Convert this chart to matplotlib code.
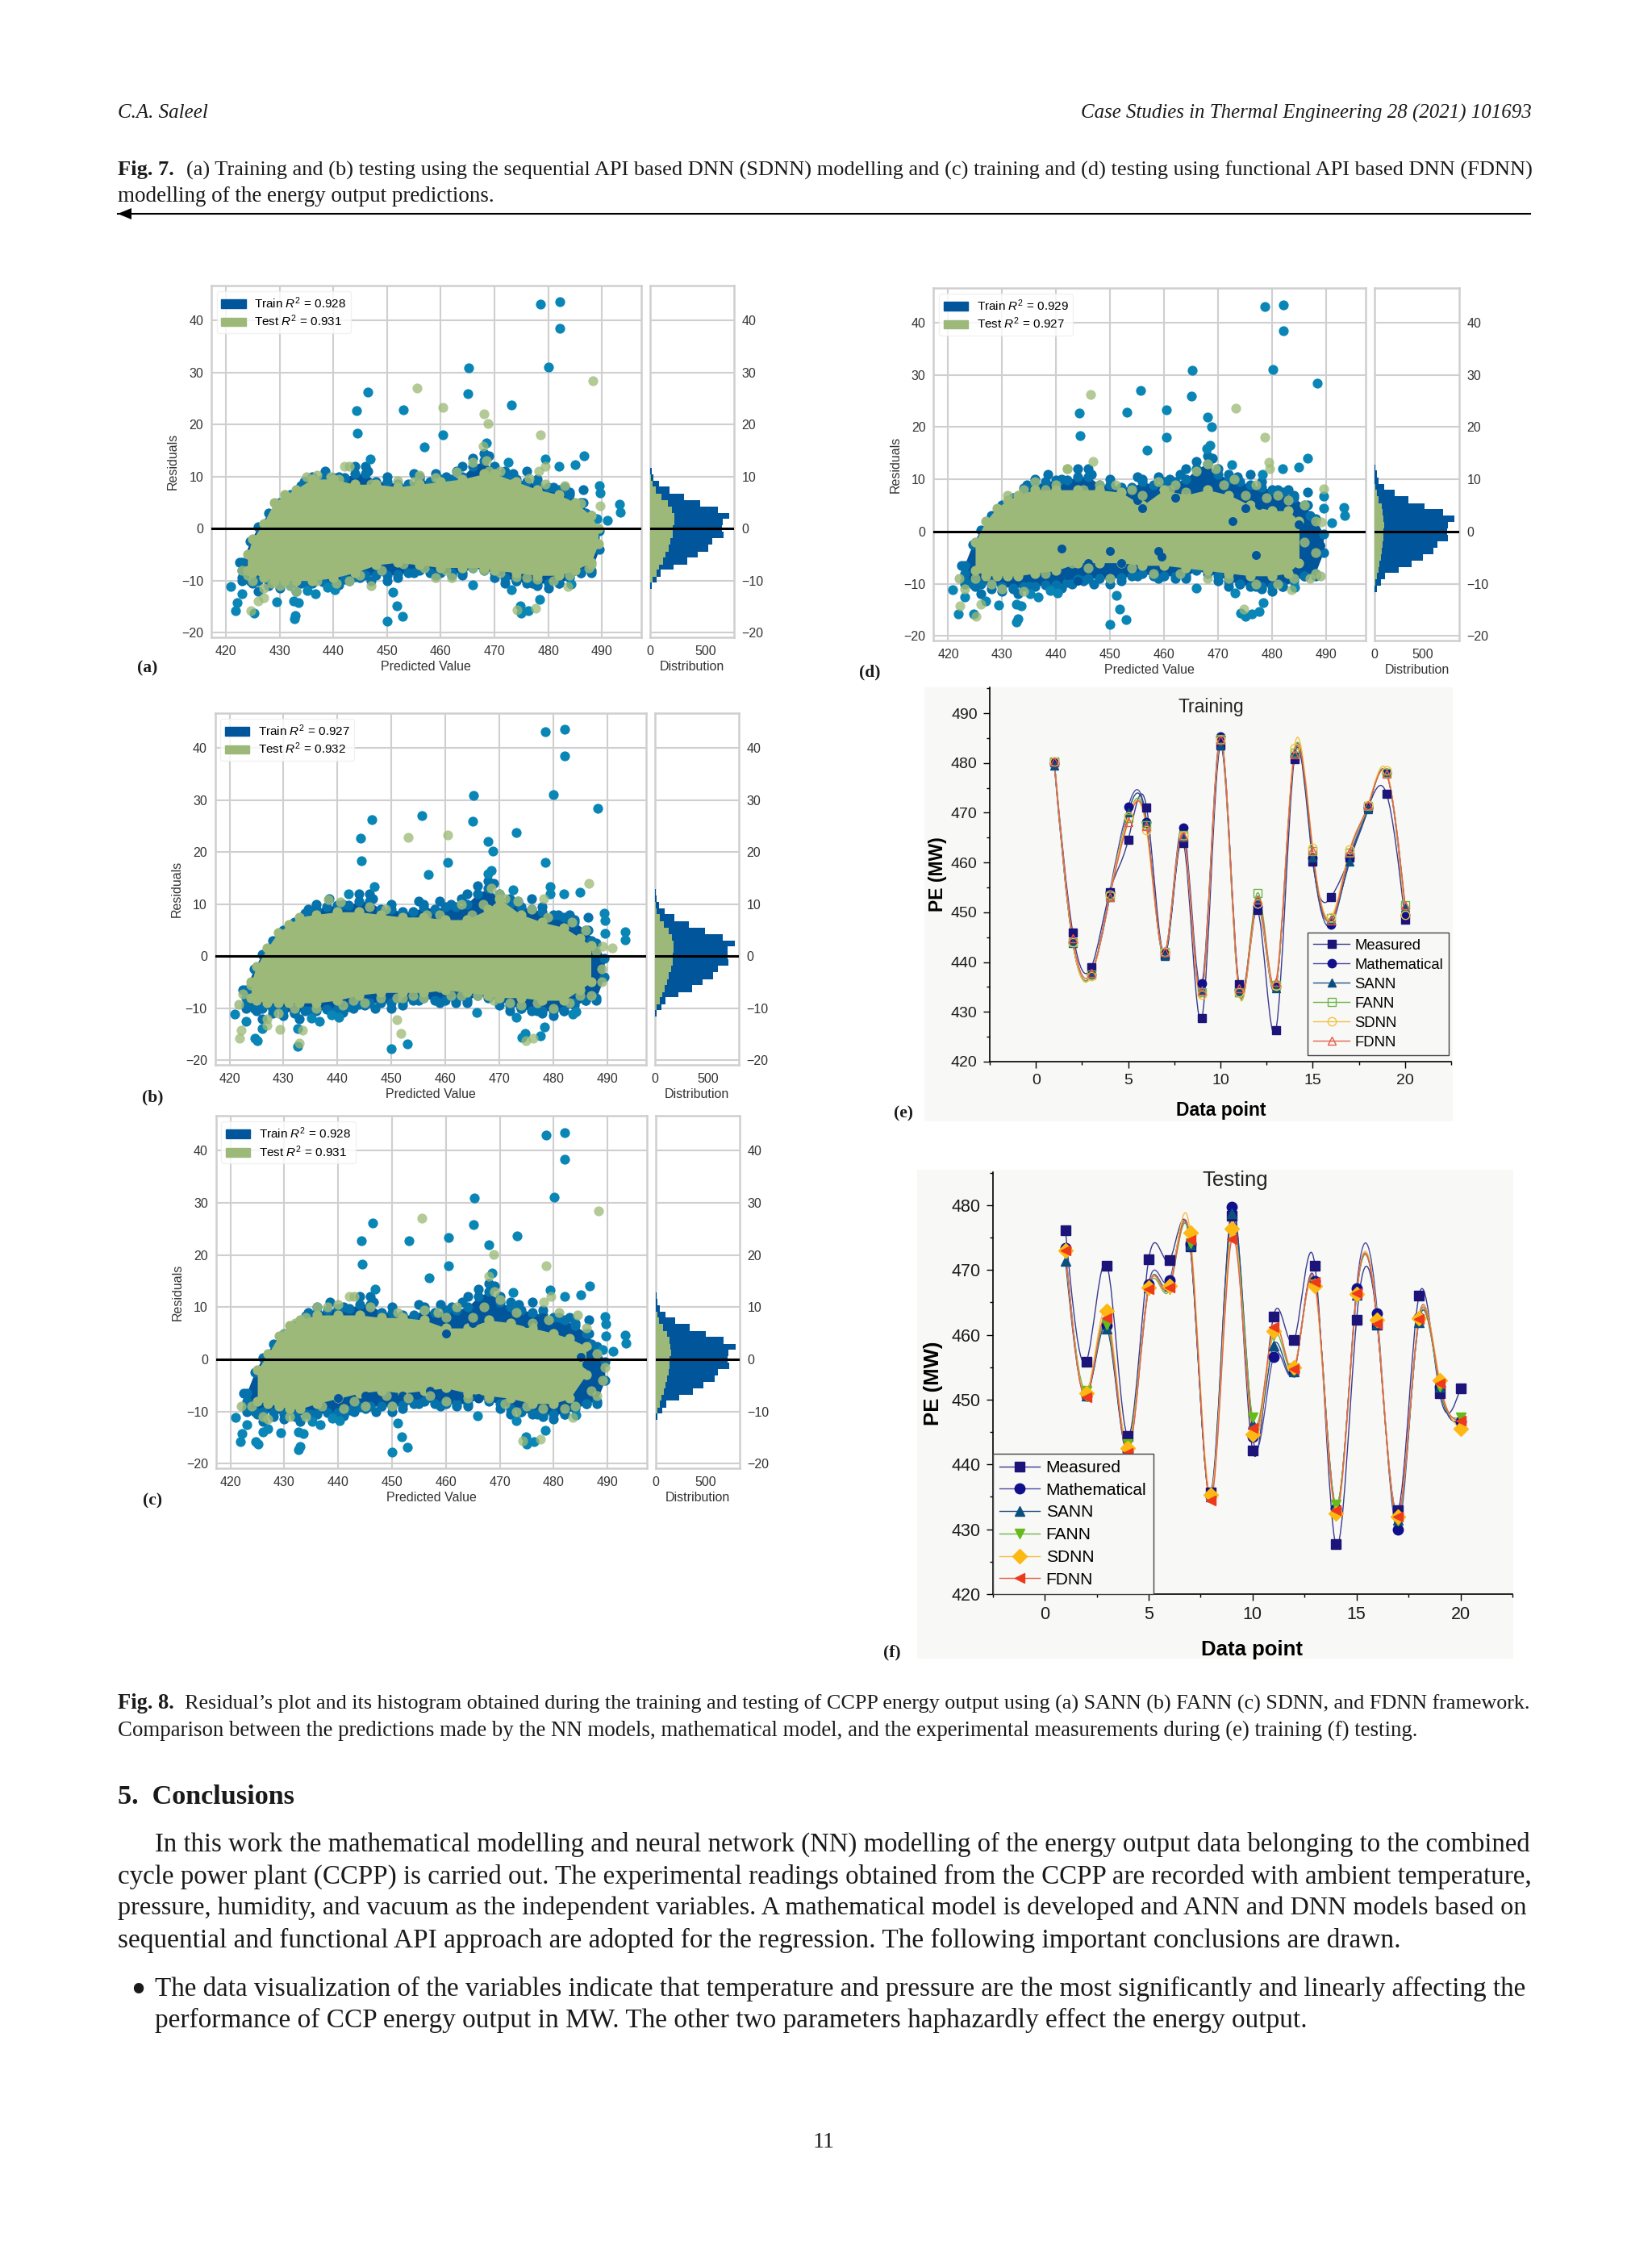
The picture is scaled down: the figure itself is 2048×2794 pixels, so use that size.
import matplotlib
matplotlib.use("Agg")
import matplotlib.pyplot as plt
import numpy as np
from matplotlib.patches import Patch, PathPatch, Rectangle
from matplotlib.path import Path
from matplotlib.lines import Line2D
from matplotlib.ticker import MultipleLocator

W, H = 2048, 2794
SANS = "Liberation Sans"
SERIF = "Liberation Serif"
plt.rcParams["font.family"] = [SANS, "DejaVu Sans"]
plt.rcParams["mathtext.fontset"] = "custom"
plt.rcParams["mathtext.rm"] = SANS
plt.rcParams["mathtext.it"] = SANS + ":italic"
plt.rcParams["mathtext.bf"] = SANS + ":bold"

# residual plots: the same extreme points show up in every panel, only the split differs
out_x = [478.6, 482.1, 482.1, 465.2, 480.1, 446.4, 465.1, 444.3, 453.1, 473.2, 444.5, 460.4, 456.9, 468.5,
         446.9, 486.6, 479.4, 485, 482, 472.5, 489.5, 489.6, 493.3, 493.4, 491, 489.1, 420.9, 423, 422.1,
         421.8, 425.2, 429.4, 432.6, 433.5, 432.9, 432.7, 436.6, 435.1, 438.9, 440.2, 450, 451.1, 451.8,
         452.9, 465.9, 473.1, 474.8, 475, 476.3, 478.4, 484.2, 455.6, 460.4, 468, 468.8, 478.6, 467.9,
         488.3, 479.5, 478.2, 442.1, 489.6, 474.2, 477.6, 424.7, 426, 427, 483.6]
out_y = [43.05, 43.5, 38.4, 30.9, 31.05, 26.2, 25.9, 22.7, 22.8, 23.7, 18.3, 18, 15.6, 16.5,
         13.4, 14, 13.3, 12.3, 12, 12.8, 8.2, 6.8, 4.6, 3.1, 1.6, 1.9, -11.1, -12.6, -14.3,
         -15.8, -16.2, -14.1, -14, -14.2, -16.7, -17.4, -12.6, -11.9, -11.3, -11.7, -17.8, -12.2, -14.8,
         -16.9, -10.8, -11.8, -14.8, -16.2, -15.8, -13.6, -10.7, 27, 23.3, 22, 20.1, 18, 15.9,
         28.4, 12, 11, 12, 4.4, -15.7, -15.3, -15.8, -13.9, -13.3, -11.1]
test_idx_a = [51, 52, 53, 54, 55, 56, 57, 58, 59, 60, 61, 62, 63, 64, 65, 66, 67]
test_idx_b = [8, 52, 15, 59, 41, 42, 31, 33, 34, 28, 29, 24, 25, 47, 48, 66]
test_idx_c = [51, 54, 55, 56, 57, 58, 59, 60, 62, 63, 67]
test_idx_d = [5, 9, 55, 16, 58, 14, 60, 20, 30, 28, 65, 46, 67, 25]

# outline of the dense train cloud
train_x = [423, 424.5, 426, 428, 430, 432, 434, 436, 438, 440, 442, 444, 446, 448, 450, 452, 454, 456, 458, 460,
           462, 464, 466, 468, 470, 472, 474, 476, 478, 480, 482, 484, 486, 488, 489.5]
train_top = [-6.5, -2.5, 0.3, 3, 5, 6.5, 8.3, 9, 9.5, 9.8, 9.8, 10.5, 10.5, 9, 9, 8.5, 8.5, 9.5, 9, 9.5,
             9.5, 10, 12, 13, 11, 10, 9.5, 9, 8.5, 8, 7.5, 6.5, 5, 2.5, -0.5]
train_bot = [-9.5, -10, -10, -10.2, -10.5, -10.8, -10.5, -10.5, -10.2, -10.2, -9.8, -9.2, -9, -9, -9, -8.8, -8.5, -8, -8.5, -8.5,
             -8.5, -8.5, -7.5, -8, -8.5, -9.5, -10, -10.5, -10.5, -10.5, -10.5, -9.5, -8.5, -8, -4]
train_extra_x = [434.5, 436, 438.5, 441, 444, 446, 446.5, 450, 455, 456, 459, 461, 463, 464, 466, 468, 469, 470, 472,
                 473.5, 476, 478, 481, 483, 484, 486.5, 486.5, 487, 422.5, 423, 423, 425, 426, 428, 430, 432, 433, 435,
                 439, 441, 443, 445, 447, 450, 452, 455, 459, 462, 464, 470, 472, 474, 477, 478, 480, 482, 484, 486, 488]
train_extra_y = [9, 10, 11, 10, 12, 12, 11, 10, 10.5, 10, 10.5, 10, 11, 12, 13.5, 14.5, 14, 12, 11,
                 10.5, 11, 9.5, 8, 8, 7, 7.5, 5, 3, -6.5, -8, -10, -10.5, -12, -11, -11.5, -11, -12, -10.5,
                 -11, -10.8, -10, -9.5, -10, -10, -9.5, -8.5, -9, -9, -9, -9.5, -10.5, -10, -10.5, -11, -11.5, -10.5, -9, -8.5, -8.5]

# outline of the dense test cloud, one per panel
test_x_a = [424, 425, 427, 429, 431, 433, 436, 440, 444, 448, 452, 456, 460, 464, 468, 470, 474, 478, 482, 485, 488, 489.3]
test_top_a = [-5, -2, 1, 5, 6.5, 7.5, 9.5, 9.5, 8.5, 8.5, 8, 8.5, 9, 9.5, 10.5, 10.5, 9, 7.5, 6.5, 5, 2.5, 0]
test_bot_a = [-8, -8.5, -9.5, -10, -10, -10, -10, -9.5, -8.5, -7, -6.5, -7, -7.5, -7.5, -7.5, -8, -8.5, -9, -9, -8, -6.5, -3]
test_x_b = [424, 425, 427, 429, 431, 433, 436, 440, 444, 448, 452, 456, 460, 464, 468, 470, 474, 478, 482, 485, 487]
test_top_b = [-5, -2, 1.5, 4.5, 6, 7.5, 8, 8.5, 8.5, 8, 7.5, 7.5, 7, 7, 9, 11, 8, 6.5, 5.5, 3.5, 2]
test_bot_b = [-8, -8.5, -9, -9, -9, -9, -9, -8.5, -7.5, -7, -7, -7, -6.5, -7, -7.5, -8, -8, -8.5, -8.5, -6.5, -5]
test_x_c = [425, 427, 429, 431, 433, 436, 440, 444, 448, 452, 456, 460, 464, 468, 472, 476, 480, 483, 486]
test_top_c = [-2, 1, 4.5, 6.5, 7.5, 8.5, 8.5, 8.5, 8, 8, 7.5, 6, 6, 7.5, 7, 6, 5, 4, 2.5]
test_bot_c = [-8, -8.5, -9, -9.5, -9.5, -8.5, -7.5, -6.5, -6, -6.5, -6, -5.5, -6.5, -7, -7.5, -8.5, -8.5, -7.5, -3]
test_x_d = [425, 427, 429, 431, 433, 436, 440, 444, 448, 452, 456, 460, 464, 468, 472, 476, 480, 483, 485]
test_top_d = [-2, 2, 4.5, 6, 7, 8, 8, 8, 8, 7.5, 5, 8, 7, 8, 7, 5, 4, 4, 2]
test_bot_d = [-7.5, -8.5, -8.5, -8.5, -8.5, -8, -7.5, -6, -6, -6, -6.5, -6.5, -7, -7.5, -8, -8.5, -8.5, -8, -6]

# separate test points poking out of the cloud
fringe_x_a = [435, 437, 439.5, 441, 443, 447, 452, 455, 456, 459, 463, 466, 468.5, 469, 471, 473.5, 476.5, 479.5, 483, 486,
              430, 427, 433, 424, 447, 440.5, 443, 457, 459, 462, 468, 476, 481, 484, 488, 489,
              423, 425, 428.5, 432, 437, 445, 449, 453, 461, 466, 471, 474, 478, 487.5]
fringe_y_a = [10, 10.2, 10, 9.5, 12, 8.6, 9.2, 9, 10.3, 9.8, 10.8, 12.8, 13, 11, 11, 8.7, 9.6, 8.5, 8.3, 4.9,
              -11, -11.5, -12, -9, -11, -10.5, -10, -7.5, -9.5, -9.5, -8, -9.5, -10, -9, -7, -3,
              -8, -10, -10.5, -11, -10, -9, -8, -6.8, -8, -7.5, -8.5, -9.3, -9.8, -7.5]
fringe_x_b = [438.3, 440.5, 446, 449, 456.5, 459, 463, 465, 467, 468.5, 470, 471, 473.5, 476, 479, 483.5, 486, 488, 489,
              422.5, 424, 421.7, 427, 429, 441, 445, 451, 454, 459, 463, 469, 474, 480, 483, 487, 489,
              432, 436, 443, 448, 452, 456, 461, 466, 472, 477, 485]
fringe_y_b = [10.9, 10.4, 9.5, 9, 8, 8, 10, 8, 10, 13, 12, 11, 10.5, 9, 7.5, 6.5, 5, 1, -2.5,
              -7.3, -5.5, -9.2, -12, -11, -9.5, -9, -8, -7.5, -6, -7.5, -8.5, -9.5, -10, -9, -7.5, -5,
              -10, -10, -8.5, -8, -8, -8, -7.5, -7.5, -9, -9, -7.5]
fringe_x_c = [430, 432, 434, 436, 438, 440, 443, 446, 451, 456, 458.5, 460, 462, 465, 467, 469, 470, 473, 476, 479, 481,
              484.5, 486, 488, 489.5, 489, 487, 422, 424, 426, 427, 431, 434, 441, 445, 450, 457, 460, 468, 473, 478, 484, 488,
              437, 443, 449, 453, 464, 471, 475, 482]
fringe_y_c = [5, 7, 8, 10, 10, 10.5, 12, 10, 9, 9.5, 9, 8, 10, 8, 10, 13, 11.5, 9, 7, 7.5, 9,
              8.5, 6, 1, -1.5, -4, -6, -9, -9, -11, -11.5, -11, -11, -9.5, -9, -9, -7, -8, -7.5, -10, -9.5, -9, -7,
              -9, -8, -7, -7.5, -7.5, -8.5, -9, -9.5]
fringe_x_d = [431, 434, 438, 442, 445, 448, 451, 454, 459, 461, 464, 466, 468, 469.5, 471, 473, 477, 481, 486, 488, 486, 488,
              487, 488, 489, 422, 423, 425, 428, 430, 434, 438, 443, 446, 450, 454, 458, 463, 468, 472, 477, 481, 484,
              436, 440, 456, 462, 475, 479, 483]
fringe_y_d = [7, 8, 8, 12, 8, 9, 9, 8, 9.5, 8, 7.5, 11.5, 13, 12, 9, 10, 9, 7, 5, 2, -2, -4,
              -9, -8, -8.5, -9, -11, -9, -10, -11, -11.5, -8, -6, -7, -9, -7, -8, -8, -9, -9, -10, -10, -9,
              9.5, 9, 7, 9, 7, 6.5, 6]

# train points still visible through the test cloud
gap_x_c = [460, 465, 475, 478, 440, 445, 452, 457, 462, 466, 485, 487, 486]
gap_y_c = [5, 7, 7, 8, -7.5, -7, -7, -6, -7, -7.5, 0.5, 1, -1]
gap_x_d = [456, 462, 472.7, 475, 477.6, 478, 441, 442, 444, 450, 459, 459.6, 477, 485, 487.4, 487.5, 489,
           455, 464, 480, 446, 452, 486, 488]
gap_y_d = [4.5, 6.5, 2, 4.5, 5, 6.5, -3.2, -8.4, -9.4, -3.8, -3.8, -4.8, -4.5, 1.4, -0.7, -4.8, -2.7,
           6, 8, 6, -6, -6, -3, 2]

# residual histograms
hist_edges = [-11.66, -10.36, -9.22, -7.93, -6.89, -5.6, -4.4, -3.11, -1.81, -0.57, 0.62, 1.81, 3.0, 4.25, 5.44,
              6.74, 8.03, 9.17, 10.36, 11.66, 12.85]
hist_train_a = [19, 60, 96, 215, 335, 431, 526, 560, 658, 646, 653, 715, 610, 450, 304, 177, 86, 36, 19, 7]
hist_test_a = [2, 24, 60, 86, 120, 144, 167, 187, 206, 206, 222, 218, 199, 163, 103, 55, 24, 10, 2, 0]
hist_train_b = [20, 63, 100, 225, 350, 450, 550, 590, 690, 680, 685, 750, 640, 470, 320, 185, 90, 38, 20, 7]
hist_test_b = [2, 20, 49, 70, 97, 117, 135, 152, 167, 170, 180, 177, 161, 132, 83, 45, 20, 8, 2, 0]
hist_train_c = [21, 67, 107, 240, 375, 480, 590, 625, 735, 720, 730, 799, 680, 500, 340, 198, 96, 40, 21, 8]
hist_test_c = [1, 17, 42, 60, 84, 100, 117, 131, 144, 144, 156, 152, 139, 114, 72, 38, 17, 7, 1, 0]
hist_train_d = [22, 70, 112, 250, 390, 502, 612, 652, 766, 752, 760, 833, 710, 524, 354, 206, 100, 42, 22, 8]
hist_test_d = [1, 10, 26, 38, 53, 63, 73, 82, 90, 90, 98, 96, 88, 72, 45, 24, 10, 4, 1, 0]

# model comparison panels
points = list(range(1, 21))
series_names = ["Measured", "Mathematical", "SANN", "FANN", "SDNN", "FDNN"]
train_measured = [480.2, 445.9, 438.9, 454.1, 464.5, 471, 441.4, 464, 428.8, 483.6, 435.5, 450.4, 426.3, 480.7, 460.2, 453.1, 461, 471, 473.8, 448.5]
train_math = [480, 444, 437.5, 454, 471.2, 468.2, 442, 467, 435.7, 485.3, 434.5, 451.2, 435, 481.5, 461, 447.5, 461, 471, 478, 449.5]
train_sann = [479.5, 443.8, 437.5, 453, 470, 468, 441.2, 465, 434.5, 483.6, 434, 452.5, 434.8, 482, 461, 448.5, 460.2, 470.8, 478, 451]
train_fann = [480.3, 444, 437.5, 453.3, 469, 467.5, 442, 465.5, 434, 484.8, 434, 453.9, 435.4, 482, 462.3, 448.8, 462, 471.3, 478, 451.5]
train_sdnn = [480.3, 444, 437.2, 453.5, 469.3, 466.5, 442, 465.3, 433.5, 484.6, 434, 451.8, 435.2, 483, 462.9, 449, 462.6, 471.5, 478.5, 449.5]
train_fdnn = [480.3, 444.8, 437.8, 453.1, 468.2, 467.3, 442, 465.4, 434.2, 484.7, 434.8, 452.5, 436, 481.7, 462.4, 448.3, 462.2, 471.5, 477.8, 451.5]
test_measured = [476.1, 455.9, 470.7, 444.4, 471.6, 471.5, 473.6, 435.7, 478.4, 442.2, 462.8, 459.2, 470.7, 427.7, 462.3, 461.6, 432.9, 466, 451, 451.8]
test_math = [473.4, 450.6, 461.5, 442, 467.8, 468.4, 474, 435.1, 479.8, 444.3, 456.6, 454.4, 468.3, 433.2, 467.2, 463.3, 430, 462.7, 452, 446.6]
test_sann = [471.4, 450.6, 461, 442, 467.3, 467.6, 473.9, 435, 478.8, 446.3, 458.3, 454.3, 468.2, 433.7, 466.2, 461.7, 431.5, 462, 452, 446.4]
test_fann = [472.5, 451.4, 461.6, 443.2, 467, 467, 474.2, 435, 476, 447.2, 460, 454.8, 467.8, 433.8, 466, 462, 431.3, 462.2, 452, 447.3]
test_sdnn = [473, 451, 463.7, 442.5, 467.3, 467.5, 475.8, 435.3, 476.4, 444.7, 460.6, 455, 467.6, 432.5, 466.3, 462.3, 432, 462.6, 453, 445.5]
test_fdnn = [473, 450.4, 462.6, 441.8, 467.1, 467.3, 474.6, 434.4, 474.8, 445.6, 461.2, 454.7, 468.2, 433, 466.4, 461.7, 432, 462.5, 452.5, 446.7]

line_colors = ["#3a3a90", "#4a4aa8", "#23507f", "#6fb34a", "#f0c040", "#e8604c"]
marker_e = ["#1c1478", "#10108c", "#0b4f80", "#6fb34a", "#f5c242", "#ea5a48"]
marker_f = ["#1c1478", "#10108c", "#0b4f80", "#66bb1a", "#fdb813", "#ee3a1c"]

BLUE_DOT = "#0a86b6"
BLUE_MID = "#0672ac"
BLUE_DARK = "#00559b"
GREEN = "#9cb97a"
GRID = "#cfcfcf"

fig = plt.figure(figsize=(W / 100, H / 100), dpi=100, facecolor="white")
renderer = fig.canvas.get_renderer()


def px_axes(left, top, right, bottom):
    return fig.add_axes([left / W, 1 - bottom / H, (right - left) / W, (bottom - top) / H])


def line_text(x0, x1, y, s, weight="normal", style="normal"):
    # scale the line until it fills the column width
    t = fig.text(x0 / W, 1 - y / H, s, family=[SERIF, "DejaVu Serif"], fontsize=20, va="center", ha="left",
                 weight=weight, style=style, color="#1a1a1a")
    t.set_fontsize(20 * (x1 - x0) / t.get_window_extent(renderer).width)
    return t


def residual_panel(box, hist_box, test_idx, test_x, test_top, test_bot, fringe_x, fringe_y, gap_x, gap_y,
                   h_train, h_test, hist_max, r2_train, r2_test, label, label_xy):
    ax = px_axes(box[0], box[1], box[2], box[3])
    hx = px_axes(hist_box[0], box[1], hist_box[1], box[3])
    size = 78
    tall = box[3] - box[1]

    ax.fill_between(train_x, train_bot, train_top, color=BLUE_DARK, lw=0, zorder=2)
    ax.scatter(train_x, train_top, s=size, color=BLUE_MID, lw=0, zorder=2)
    ax.scatter(train_x, train_bot, s=size, color=BLUE_MID, lw=0, zorder=2)
    ax.scatter(train_extra_x, train_extra_y, s=size, color=BLUE_MID, lw=0, zorder=2)
    tr = [i for i in range(len(out_x)) if i not in test_idx]
    ax.scatter([out_x[i] for i in tr], [out_y[i] for i in tr], s=size, color=BLUE_DOT, lw=0, zorder=3)

    ax.fill_between(test_x, test_bot, test_top, color=GREEN, lw=0, zorder=4)
    ax.scatter(test_x, test_top, s=size, color=GREEN, lw=0, zorder=4)
    ax.scatter(test_x, test_bot, s=size, color=GREEN, lw=0, zorder=4)
    if gap_x:
        ax.scatter(gap_x, gap_y, s=size * 0.8, color=BLUE_DARK, lw=0, zorder=5)
    ax.scatter(fringe_x, fringe_y, s=size, color=GREEN, alpha=0.85, lw=0, zorder=6)
    ax.scatter([out_x[i] for i in test_idx], [out_y[i] for i in test_idx], s=size, color="#9ab973", alpha=0.75,
               lw=0, zorder=6)
    ax.axhline(0, color="black", lw=2.2, zorder=8)

    ax.set_xlim(417.3, 497.3)
    ax.set_ylim(-20.9, 46.67)
    ax.set_xticks(range(420, 491, 10))
    ax.set_yticks(range(-20, 41, 10))
    ax.set_xlabel("Predicted Value", fontsize=11.5, color="#333333")
    ax.set_ylabel("Residuals", fontsize=11.5, color="#333333")
    ax.xaxis.set_label_coords(0.5, -29 / tall)
    ax.yaxis.set_label_coords(-40 / (box[2] - box[0]), 0.5)
    ax.legend(handles=[Patch(color=BLUE_DARK, label="Train $R^2$ = %s" % r2_train),
                       Patch(color=GREEN, label="Test $R^2$ = %s" % r2_test)],
              loc="upper left", fontsize=11, frameon=True, framealpha=0.8, edgecolor="#eeeeee",
              handlelength=2.0, handletextpad=0.7, labelspacing=0.25, borderpad=0.35, borderaxespad=0.45).set_zorder(9)

    hx.barh(hist_edges[:-1], h_train, height=np.diff(hist_edges), align="edge", color=BLUE_DARK, lw=0, zorder=3)
    hx.barh(hist_edges[:-1], h_test, height=np.diff(hist_edges), align="edge", color=GREEN, lw=0, zorder=4)
    hx.axhline(0, color="black", lw=2.2, zorder=8)
    hx.set_xlim(0, hist_max)
    hx.set_ylim(-20.9, 46.67)
    hx.set_xticks([0, 500])
    hx.set_yticks(range(-20, 41, 10))
    hx.yaxis.tick_right()
    hx.set_xlabel("Distribution", fontsize=11.5, color="#333333")
    hx.xaxis.set_label_coords(0.5, -29 / tall)

    for a in (ax, hx):
        a.set_axisbelow(True)
        a.grid(color=GRID, lw=1.5, axis="both" if a is ax else "y", zorder=0)
        a.tick_params(length=0, labelsize=11.5, labelcolor="#333333", pad=7)
        for sp in a.spines.values():
            sp.set_color(GRID)
            sp.set_linewidth(1.8)
    fig.text(label_xy[0] / W, 1 - label_xy[1] / H, label, family=SERIF, weight="bold", fontsize=15.5,
             ha="center", va="center", color="#1a1a1a")


def spline_path(x, y):
    # cubic spline through the read values, drawn as bezier segments
    n = len(x)
    a = np.zeros((n, n))
    b = np.zeros(n)
    a[0, 0], a[0, 1], b[0] = 2, 1, 3 * (y[1] - y[0])
    a[-1, -2], a[-1, -1], b[-1] = 1, 2, 3 * (y[-1] - y[-2])
    for i in range(1, n - 1):
        a[i, i - 1], a[i, i], a[i, i + 1] = 1, 4, 1
        b[i] = 3 * (y[i + 1] - y[i - 1])
    m = np.linalg.solve(a, b)
    verts = [(x[0], y[0])]
    codes = [Path.MOVETO]
    for i in range(n - 1):
        verts += [(x[i] + 1 / 3, y[i] + m[i] / 3), (x[i + 1] - 1 / 3, y[i + 1] - m[i + 1] / 3), (x[i + 1], y[i + 1])]
        codes += [Path.CURVE4] * 3
    return Path(verts, codes)


def compare_panel(box, bg, series, markers, faces, colors, ms, ylim, yticks, tick_fs, lab_fs, title, title_xy,
                  xlabel_xy, ylabel_xy, legend_box, legend_fs, legend_space, label, label_xy):
    fig.patches.append(Rectangle((bg[0] / W, 1 - bg[3] / H), (bg[2] - bg[0]) / W, (bg[3] - bg[1]) / H,
                                 transform=fig.transFigure, color="#f8f8f6", lw=0, zorder=-1))
    ax = px_axes(box[0], box[1], box[2], box[3])
    ax.patch.set_alpha(0)
    handles = []
    for vals, name, mk, face, lc, mc in zip(series, series_names, markers, faces, line_colors, colors):
        ax.add_patch(PathPatch(spline_path(points, vals), fill=False, ec=lc, lw=1.0, zorder=3))
        fc = mc if face else "none"
        ax.plot(points, vals, ls="none", marker=mk, ms=ms, mfc=fc, mec=mc, mew=1.0, zorder=4)
        handles.append(Line2D([], [], color=lc, lw=1.0, marker=mk, ms=ms, mfc=fc, mec=mc, mew=1.0, label=name))
    ax.set_xlim(-2.5, 22.5)
    ax.set_ylim(*ylim)
    ax.set_xticks([0, 5, 10, 15, 20])
    ax.set_yticks(yticks)
    ax.xaxis.set_minor_locator(MultipleLocator(2.5))
    ax.yaxis.set_minor_locator(MultipleLocator(5))
    for sp in ("top", "right"):
        ax.spines[sp].set_visible(False)
    for sp in ("left", "bottom"):
        ax.spines[sp].set_linewidth(1.2)
    ax.tick_params(which="major", length=6, width=1.0, labelsize=tick_fs, pad=5, labelcolor="#1a1a1a")
    ax.tick_params(which="minor", length=3, width=1.0)
    fig.text(xlabel_xy[0] / W, 1 - xlabel_xy[1] / H, "Data point", weight="bold", fontsize=lab_fs, ha="center", va="center")
    fig.text(ylabel_xy[0] / W, 1 - ylabel_xy[1] / H, "PE (MW)", weight="bold", fontsize=lab_fs, rotation=90,
             ha="center", va="center")
    fig.text(title_xy[0] / W, 1 - title_xy[1] / H, title, fontsize=lab_fs, ha="center", va="center", color="#222222")
    lg = ax.legend(handles=handles, loc="lower left",
                   bbox_to_anchor=((legend_box[0] - box[0]) / (box[2] - box[0]), (box[3] - legend_box[3]) / (box[3] - box[1])),
                   fontsize=legend_fs, frameon=True, fancybox=False, framealpha=1, edgecolor="#444444",
                   handlelength=2.4, handletextpad=0.35, labelspacing=legend_space, borderpad=0.4, borderaxespad=0)
    lg.get_frame().set_linewidth(1.0)
    lg.get_frame().set_facecolor("#f8f8f6")
    lg.set_zorder(9)
    fig.text(label_xy[0] / W, 1 - label_xy[1] / H, label, family=SERIF, weight="bold", fontsize=15.5,
             ha="center", va="center", color="#1a1a1a")


residual_panel((262, 354, 794.8, 790), (805.5, 909.8), test_idx_a, test_x_a, test_top_a, test_bot_a, fringe_x_a, fringe_y_a,
               [], [], hist_train_a, hist_test_a, 754, "0.928", "0.931", "(a)", (183, 828))
residual_panel((266.5, 884, 801.4, 1320), (811.6, 915.9), test_idx_b, test_x_b, test_top_b, test_bot_b, fringe_x_b, fringe_y_b,
               [], [], hist_train_b, hist_test_b, 788, "0.927", "0.932", "(b)", (189, 1360))
residual_panel((267.6, 1383.3, 802, 1820), (812.6, 917), test_idx_c, test_x_c, test_top_c, test_bot_c, fringe_x_c, fringe_y_c,
               gap_x_c, gap_y_c, hist_train_c, hist_test_c, 840, "0.928", "0.931", "(c)", (189.5, 1860))
residual_panel((1157.4, 357, 1692.8, 794), (1704, 1808.8), test_idx_d, test_x_d, test_top_d, test_bot_d, fringe_x_d, fringe_y_d,
               gap_x_d, gap_y_d, hist_train_d, hist_test_d, 880, "0.929", "0.927", "(d)", (1078, 833))

compare_panel((1227, 852, 1799, 1316), (1146, 852, 1801, 1390),
              [train_measured, train_math, train_sann, train_fann, train_sdnn, train_fdnn],
              ["s", "o", "^", "s", "o", "^"], [True, True, True, False, False, False], marker_e, 7.5,
              (420, 495.2), range(420, 491, 10), 14, 16.5, "Training", (1501, 877), (1514, 1377), (1162, 1084),
              (1621, 1159, 1791, 1308), 13.3, 0.38, "(e)", (1120, 1380))
compare_panel((1230.7, 1453, 1875, 1976), (1137, 1450, 1876, 2056),
              [test_measured, test_math, test_sann, test_fann, test_sdnn, test_fdnn],
              ["s", "o", "^", "v", "D", "<"], [True] * 6, marker_f, 9,
              (420, 485.1), range(420, 481, 10), 15.5, 18.5, "Testing", (1531, 1463), (1552, 2045), (1157, 1715),
              (1231, 1807, 1423, 1976), 15, 0.42, "(f)", (1106, 2048))

# page text
line_text(146, 258, 140, "C.A. Saleel", style="italic")
line_text(1340, 1897, 140, "Case Studies in Thermal Engineering 28 (2021) 101693", style="italic")
line_text(146, 216, 211, "Fig. 7.", weight="bold")
line_text(231, 1897, 211, "(a) Training and (b) testing using the sequential API based DNN (SDNN) modelling and (c) training and (d) testing using functional API based DNN (FDNN)")
line_text(146, 613, 243, "modelling of the energy output predictions.")
fig.add_artist(Line2D([146 / W, 1897 / W], [1 - 265 / H, 1 - 265 / H], color="black", lw=1.5))
fig.patches.append(plt.Polygon([(146 / W, 1 - 265 / H), (163 / W, 1 - 258 / H), (163 / W, 1 - 272 / H)],
                               transform=fig.transFigure, color="black", lw=0))

line_text(146, 216, 2112, "Fig. 8.", weight="bold")
line_text(229, 1897, 2112, "Residual\u2019s plot and its histogram obtained during the training and testing of CCPP energy output using (a) SANN (b) FANN (c) SDNN, and FDNN framework.")
line_text(146, 1765, 2145, "Comparison between the predictions made by the NN models, mathematical model, and the experimental measurements during (e) training (f) testing.")
line_text(146, 365, 2227, "5.  Conclusions", weight="bold")
line_text(192, 1897, 2286, "In this work the mathematical modelling and neural network (NN) modelling of the energy output data belonging to the combined")
line_text(146, 1897, 2326, "cycle power plant (CCPP) is carried out. The experimental readings obtained from the CCPP are recorded with ambient temperature,")
line_text(146, 1897, 2365, "pressure, humidity, and vacuum as the independent variables. A mathematical model is developed and ANN and DNN models based on")
line_text(146, 1734, 2405, "sequential and functional API approach are adopted for the regression. The following important conclusions are drawn.")
line_text(162, 180, 2469, "\u2022")
line_text(192, 1897, 2465, "The data visualization of the variables indicate that temperature and pressure are the most significantly and linearly affecting the")
line_text(192, 1619, 2504, "performance of CCP energy output in MW. The other two parameters haphazardly effect the energy output.")
line_text(1007, 1034, 2656, "11")

fig.savefig("out.png", dpi=100, facecolor="white")
